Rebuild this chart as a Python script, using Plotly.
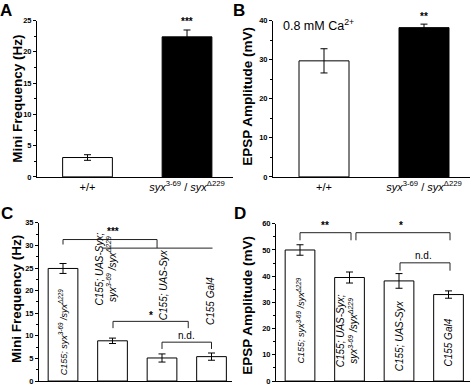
import plotly.graph_objects as go

W, H = 474, 388

# ---------------- data ----------------
ab_ticktext = ["+/+", "<i>syx</i><sup>3-69</sup> / <i>syx</i><sup>Δ229</sup>"]
a_values = [3.1, 22.4]
a_errors = [0.45, 1.1]
a_sig = ["", "***"]
b_values = [29.7, 38.2]
b_errors = [3.1, 0.9]
b_sig = ["", "**"]
ab_colors = ["white", "black"]

cd_labels = [
    "C155; syx<sup>3-69</sup> /syx<sup>Δ229</sup>",
    "C155; UAS-Syx;<br>syx<sup>3-69</sup> /syx<sup>Δ229</sup>",
    "C155; UAS-Syx",
    "C155 Gal4",
]
c_values = [24.9, 8.9, 5.1, 5.4]
c_errors = [1.1, 0.6, 0.9, 0.8]
d_values = [50.0, 39.5, 38.2, 33.0]
d_errors = [2.0, 2.1, 2.8, 1.4]

FONT = "Liberation Sans, Arial, sans-serif"
A_MAX, B_MAX, C_MAX, D_MAX = 25, 40, 35, 60


def px_x(p):
    return p / W


def px_y(p):
    return 1 - p / H


fig = go.Figure()


def add_bars(values, errors, colors, xa, ya, width):
    fig.add_trace(go.Bar(
        x=list(range(len(values))), y=values, width=width,
        marker=dict(color=colors, line=dict(color="black", width=1)),
        error_y=dict(type="data", array=errors, color="black", thickness=1, width=3.5),
        xaxis=xa, yaxis=ya, showlegend=False, hoverinfo="skip",
    ))


add_bars(a_values, a_errors, ab_colors, "x", "y", 0.5)
add_bars(b_values, b_errors, ab_colors, "x2", "y2", 0.5)
add_bars(c_values, c_errors, ["white"] * 4, "x3", "y3", 0.6)
add_bars(d_values, d_errors, ["white"] * 4, "x4", "y4", 0.6)


def yaxis(domain, rng, dtick, anchor):
    return dict(
        domain=domain, range=rng, dtick=dtick, anchor=anchor,
        ticks="outside", ticklen=3, tickwidth=1, tickcolor="black",
        showline=True, linecolor="black", linewidth=1,
        showgrid=False, zeroline=False,
        tickfont=dict(family=FONT, size=7.5, color="black", weight="bold"),
        minor=dict(dtick=dtick / 2, ticks="outside", ticklen=2, tickcolor="black", showgrid=False),
    )


def xaxis(domain, rng, anchor, labels=None):
    d = dict(
        domain=domain, range=rng, anchor=anchor,
        showline=True, linecolor="black", linewidth=1,
        showgrid=False, zeroline=False, ticks="",
    )
    if labels:
        d.update(tickmode="array", tickvals=list(range(len(labels))), ticktext=labels,
                 tickfont=dict(family=FONT, size=11, color="black"))
    else:
        d.update(showticklabels=False)
    return d


fig.update_layout(
    width=W, height=H, autosize=False,
    margin=dict(l=0, r=0, t=0, b=0),
    paper_bgcolor="white", plot_bgcolor="white",
    xaxis=xaxis([px_x(37), px_x(233)], [-0.5075, 1.462], "y", ab_ticktext),
    yaxis=yaxis([px_y(177), px_y(17)], [0, A_MAX], 5, "x"),
    xaxis2=xaxis([px_x(273), px_x(470)], [-0.51, 1.46], "y2", ab_ticktext),
    yaxis2=yaxis([px_y(177), px_y(17)], [0, B_MAX], 10, "x2"),
    xaxis3=xaxis([px_x(39), px_x(232)], [-0.485, 3.414], "y3"),
    yaxis3=yaxis([px_y(386), px_y(224)], [0, C_MAX], 5, "x3"),
    xaxis4=xaxis([px_x(276), px_x(470)], [-0.485, 3.434], "y4"),
    yaxis4=yaxis([px_y(386), px_y(225)], [0, D_MAX], 10, "x4"),
)

ann = []


def paper_text(text, x, y, size, bold=False, angle=0):
    ann.append(dict(text=text, x=px_x(x), y=px_y(y), xref="paper", yref="paper",
                    showarrow=False, textangle=angle, xanchor="center", yanchor="middle",
                    font=dict(family=FONT, size=size, color="black", weight="bold" if bold else "normal")))


def data_text(text, x, y, xr, yr, size, bold=False, angle=0, italic=False, align="center"):
    ann.append(dict(text=text, x=x, y=y, xref=xr, yref=yr,
                    showarrow=False, textangle=angle, xanchor="center", yanchor="middle", align=align,
                    font=dict(family=FONT, size=size, color="black",
                              weight="bold" if bold else "normal",
                              style="italic" if italic else "normal")))


# panel letters
paper_text("A", 6, 7, 17, bold=True)
paper_text("B", 239, 7, 17, bold=True)
paper_text("C", 7, 214, 17, bold=True)
paper_text("D", 240, 214, 17, bold=True)

# axis titles
paper_text("Mini Frequency (Hz)", 18, 97, 13.5, bold=True, angle=-90)
paper_text("EPSP Amplitude (mV)", 248, 95, 13.5, bold=True, angle=-90)
paper_text("Mini Frequency (Hz)", 17, 302, 13.5, bold=True, angle=-90)
paper_text("EPSP Amplitude (mV)", 248, 309, 13.5, bold=True, angle=-90)

# significance above bars in A/B (y domain refs so they may sit above the axis top)
for i, s in enumerate(a_sig):
    if s:
        data_text(s, i, (a_values[i] + a_errors[i] + 1.3) / A_MAX, "x", "y domain", 10, bold=True)
for i, s in enumerate(b_sig):
    if s:
        data_text(s, i, (b_values[i] + b_errors[i] + 2.0) / B_MAX, "x2", "y2 domain", 10, bold=True)

data_text("0.8 mM Ca<sup>2+</sup>", -0.06, 39.0, "x2", "y2", 12.5)

# bar labels C
label_sizes = [9, 10, 10, 10]
c_label_pos = [(0, 10.8), (0.86, 24.8), (2.02, 21.2), (2.97, 17.7)]
for lab, (x, y), s in zip(cd_labels, c_label_pos, label_sizes):
    data_text(lab, x, y, "x3", "y3", s, angle=-90, italic=True)
# bar labels D
d_label_pos = [(0, 23.1), (0.95, 19.0), (2.0, 17.1), (3.0, 14.5)]
for lab, (x, y), s in zip(cd_labels, d_label_pos, label_sizes):
    data_text(lab, x, y, "x4", "y4", s, angle=-90, italic=True)

shapes = []


def bracket(x0, x1, ytop, yl, yr, xr, yrf):
    shapes.append(dict(type="path", xref=xr, yref=yrf,
                       path=f"M {x0},{yl} L {x0},{ytop} L {x1},{ytop} L {x1},{yr}",
                       line=dict(color="#222", width=1)))


# C brackets
bracket(0, 1.9, 31.3, 30.2, 29.4, "x3", "y3")
shapes.append(dict(type="line", xref="x3", yref="y3", x0=0.8, x1=3.02, y0=29.4, y1=29.4,
                   line=dict(color="#222", width=1)))
data_text("***", 1.0, 33.0, "x3", "y3", 10, bold=True)
bracket(1.01, 2.53, 13.2, 11.7, 11.7, "x3", "y3")
data_text("*", 1.77, 14.4, "x3", "y3", 10, bold=True)
bracket(2.0, 3.0, 8.6, 7.1, 7.1, "x3", "y3")
data_text("n.d.", 2.5, 10.1, "x3", "y3", 10)

# D brackets
bracket(0, 1.03, 56.6, 53.7, 53.7, "x4", "y4")
data_text("**", 0.5, 59.3, "x4", "y4", 10, bold=True)
bracket(1.13, 3.03, 56.6, 53.7, 53.7, "x4", "y4")
data_text("*", 2.05, 59.3, "x4", "y4", 10, bold=True)
bracket(2.02, 3.03, 45.1, 42.1, 42.1, "x4", "y4")
data_text("n.d.", 2.5, 48.0, "x4", "y4", 10)

fig.update_layout(annotations=ann, shapes=shapes)
fig.write_html("out.html", config={"displayModeBar": False},
               post_script="document.body.style.margin='0px';document.body.style.overflow='hidden';")
